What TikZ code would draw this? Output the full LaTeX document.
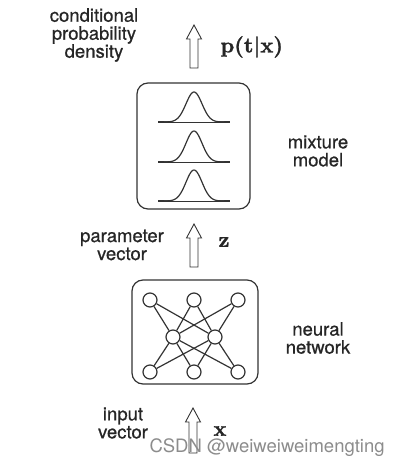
\documentclass[tikz,border=0pt]{standalone}
\usepackage[no-math]{fontspec}
\setmainfont{TeX Gyre Heros}[FakeBold=0.7]
\newfontfamily\cmbold{lmroman10-bold}[Extension=.otf, FakeBold=1.2]
\begin{document}
\begin{tikzpicture}[x=1pt,y=-1pt,
  line/.style={draw=black!80, line width=1.2pt},
  box/.style={line, rounded corners=11pt},
  unit/.style={circle, draw=black!80, line width=1.2pt, fill=white, minimum size=14pt, inner sep=0pt},
  lab/.style={align=center, font=\fontsize{18.5}{18}\selectfont, text=black!85},
  mlab/.style={font=\cmbold\fontsize{21.5}{24}\selectfont, text=black!85},
  blk/.style={draw=black!80, line width=0.9pt, fill=white, line join=miter}
]
\useasboundingbox (0,0) rectangle (403,468);
% block arrow macro: x, tip y, bottom y
\newcommand\hollowarrow[3]{%
  \draw[blk] (#1-4,#3) -- (#1-4,#2+14) -- (#1-7.5,#2+14) -- (#1,#2) -- (#1+7.5,#2+14) -- (#1+4,#2+14) -- (#1+4,#3) -- cycle;}

% mixture model box
\node[box, minimum width=113pt, minimum height=126pt] (mix) at (193.5,146) {};
\foreach \b/\h in {122/30,162/31,201/31}{
  \draw[line] (158,\b) -- (230,\b);
  \draw[line, fill=white] plot[domain=-30:30, samples=61, smooth] ({194+\x}, {\b-\h*exp(-(\x*\x)/(2*64))});
}
\node[lab] (mixlab) at (318,151) {mixture\\model};

% neural network box
\node[box, minimum width=126pt, minimum height=104pt] (nn) at (195,332) {};
\node[unit] (t1) at (150,300) {};
\node[unit] (t2) at (194,300) {};
\node[unit] (t3) at (238,300) {};
\node[unit] (h1) at (173,337) {};
\node[unit] (h2) at (215,337) {};
\node[unit] (b1) at (150,372) {};
\node[unit] (b2) at (194,372) {};
\node[unit] (b3) at (238,372) {};
\foreach \a in {t1,t2,t3,b1,b2,b3}{
  \foreach \c in {h1,h2}{
    \draw[line] (\a) -- (\c);
  }
}
\node[lab] (nnlab) at (318,338) {neural\\network};

% arrows
\hollowarrow{194}{25}{68}
\hollowarrow{194}{224}{267}
\hollowarrow{193}{408}{453}

% labels
\node[lab] (cond) at (94,35) {conditional\\probability\\density};
\node[mlab, anchor=west] (pt) at (217,47) {p(t|x)};
\node[lab] (par) at (122,245) {parameter\\vector};
\node[mlab] (z) at (224,242) {z};
\node[lab] (inp) at (123,423) {input\\vector};
\node[mlab] (x) at (220,431) {x};

% watermark
\node[anchor=west, text=black!45, font=\fontsize{18.5}{18}\selectfont\addfontfeature{FakeBold=0}] (wm) at (146,448) {CSDN @weiweiweimengting};
\end{tikzpicture}
\end{document}
